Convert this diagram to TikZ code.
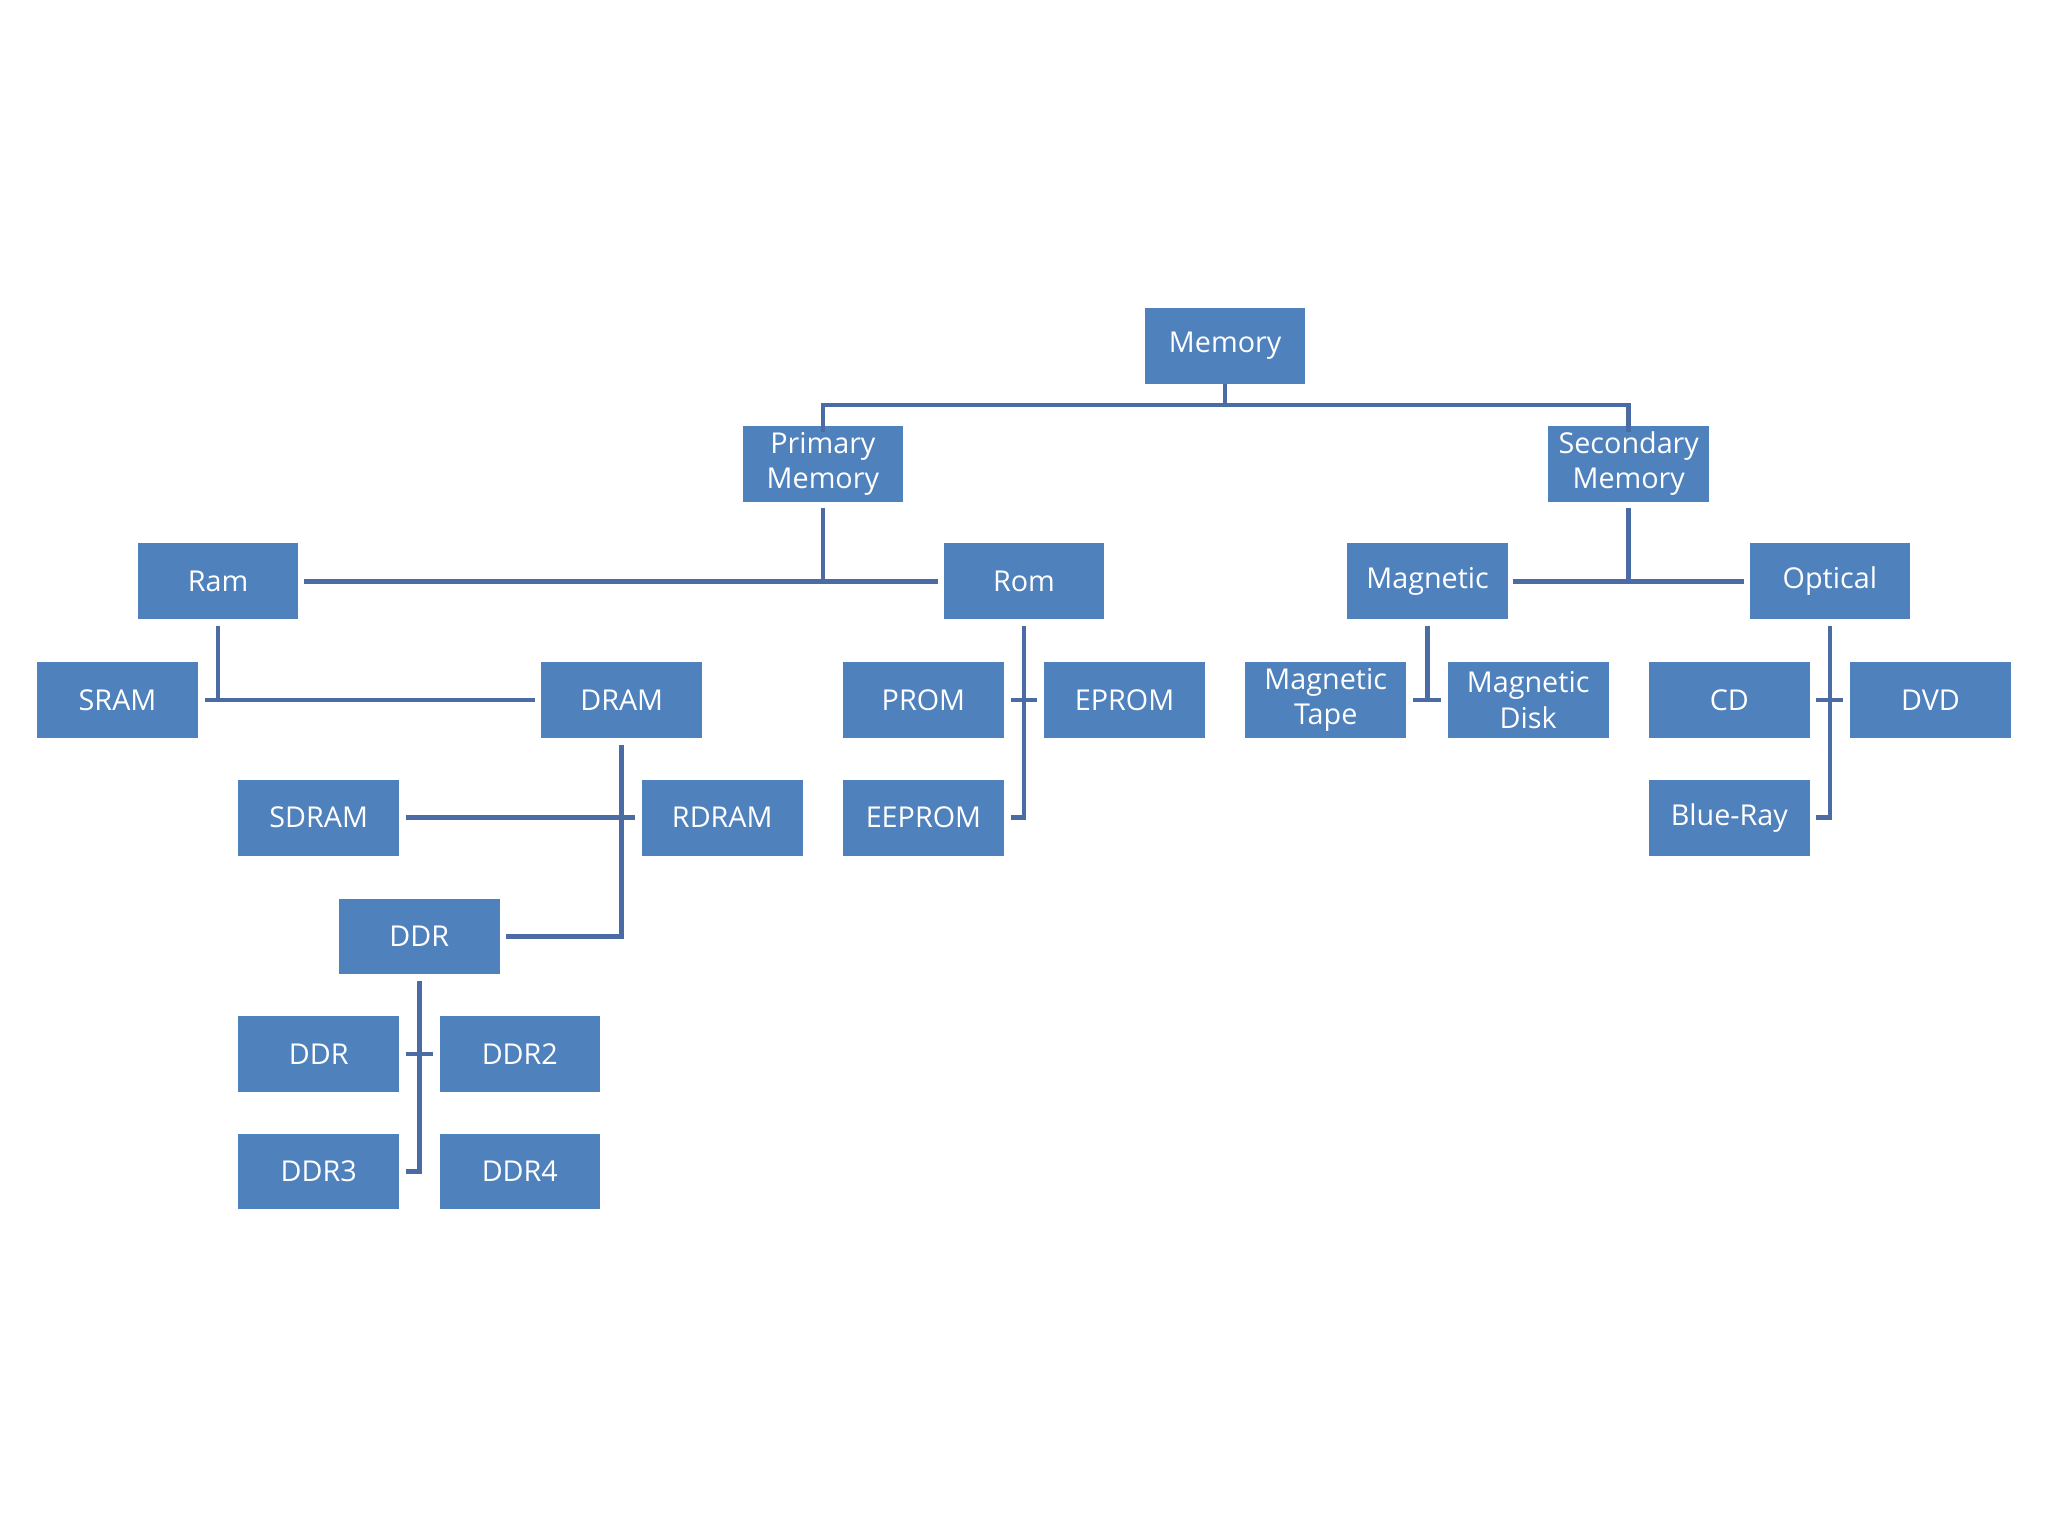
\documentclass[tikz,border=0pt]{standalone}
\usepackage{fontspec}
\setmainfont{Open Sans}
\definecolor{boxc}{HTML}{4F81BD}
\definecolor{linec}{HTML}{4A6BA3}
\begin{document}
\begin{tikzpicture}[x=1pt,y=-1pt,
 box/.style={fill=boxc,draw=none,minimum width=123pt,minimum height=58pt,inner sep=0pt,text=white,align=center,font=\fontsize{22}{27}\selectfont},
 ln/.style={draw=linec,line width=3.5pt}]
\useasboundingbox[fill=white] (0,0) rectangle (1568,1176);
\node[box] (mem) at (938,265) {Memory};
\node[box] (pm) at (630,355) {Primary\\Memory};
\node[box] (sm) at (1247,355) {Secondary\\Memory};
\node[box] (ram) at (167,445) {Ram};
\node[box] (rom) at (784,445) {Rom};
\node[box] (mag) at (1093,445) {Magnetic};
\node[box] (opt) at (1401,445) {Optical};
\node[box] (sram) at (90,536) {SRAM};
\node[box] (dram) at (476,536) {DRAM};
\node[box] (prom) at (707,536) {PROM};
\node[box] (eprom) at (861,536) {EPROM};
\node[box] (mt) at (1015,536) {Magnetic\\Tape};
\node[box] (md) at (1170,536) {Magnetic\\Disk};
\node[box] (cd) at (1324,536) {CD};
\node[box] (dvd) at (1478,536) {DVD};
\node[box] (sdram) at (244,626) {SDRAM};
\node[box] (rdram) at (553,626) {RDRAM};
\node[box] (eeprom) at (707,626) {EEPROM};
\node[box] (br) at (1324,626) {Blue-Ray};
\node[box] (ddr) at (321,717) {DDR};
\node[box] (ddra) at (244,807) {DDR};
\node[box] (ddrb) at (398,807) {DDR2};
\node[box] (ddrc) at (244,897) {DDR3};
\node[box] (ddrd) at (398,897) {DDR4};
% Memory
\draw[ln] (mem.south) -- ++(0,16);
\draw[ln] ([yshift=-5pt]pm.north) |- (938,310) -| ([yshift=-5pt]sm.north);
% Primary
\draw[ln] ([yshift=-5pt]pm.south) -- (630,445);
\draw[ln] ([xshift=4pt]ram.east) -- ([xshift=-4pt]rom.west);
% Secondary
\draw[ln] ([yshift=-5pt]sm.south) -- (1247,445);
\draw[ln] ([xshift=4pt]mag.east) -- ([xshift=-4pt]opt.west);
% Ram
\draw[ln] ([yshift=-5pt]ram.south) -- (167,536);
\draw[ln] ([xshift=5pt]sram.east) -- ([xshift=-5pt]dram.west);
% DRAM
\draw[ln] ([yshift=-5pt]dram.south) -- (476,717) -- ([xshift=5pt]ddr.east);
\draw[ln] ([xshift=5pt]sdram.east) -- ([xshift=-5pt]rdram.west);
% Rom
\draw[ln] ([yshift=-5pt]rom.south) -- (784,626) -- ([xshift=5pt]eeprom.east);
\draw[ln] ([xshift=5pt]prom.east) -- ([xshift=-5pt]eprom.west);
% Magnetic
\draw[ln] ([yshift=-5pt]mag.south) -- (1093,536);
\draw[ln] ([xshift=5pt]mt.east) -- ([xshift=-5pt]md.west);
% Optical
\draw[ln] ([yshift=-5pt]opt.south) -- (1401,626) -- ([xshift=5pt]br.east);
\draw[ln] ([xshift=5pt]cd.east) -- ([xshift=-5pt]dvd.west);
% DDR
\draw[ln] ([yshift=-5pt]ddr.south) -- (321,897) -- ([xshift=5pt]ddrc.east);
\draw[ln] ([xshift=5pt]ddra.east) -- ([xshift=-5pt]ddrb.west);
\end{tikzpicture}
\end{document}
